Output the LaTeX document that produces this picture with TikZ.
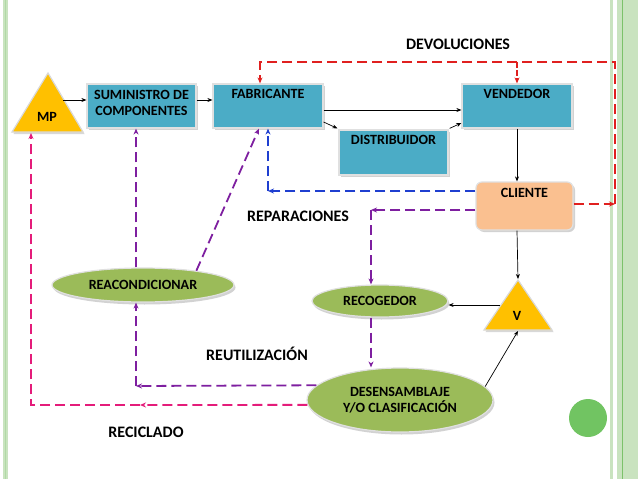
\documentclass[tikz,border=0pt]{standalone}
\usepackage{fontspec}
\setmainfont{Carlito}
\usetikzlibrary{shadows,arrows.meta}
\definecolor{boxblue}{HTML}{4BACC6}
\definecolor{peach}{HTML}{FAC090}
\definecolor{olive}{HTML}{9BBB59}
\definecolor{gold}{HTML}{FFC000}
\definecolor{dred}{HTML}{E0201F}
\definecolor{dblue}{HTML}{1F3FD0}
\definecolor{dpurple}{HTML}{7E1FA0}
\definecolor{dmag}{HTML}{E41C7A}
\definecolor{lgreen}{HTML}{C9E3BF}
\definecolor{mgreen}{HTML}{7CC26A}
\definecolor{ballgreen}{HTML}{71C462}
\tikzset{
  txt/.style={font=\bfseries\fontsize{14.1}{16}\selectfont, text=black, inner sep=0pt, align=center},
  bigtxt/.style={txt, font=\bfseries\fontsize{16}{18}\selectfont},
  boxshape/.style={rectangle, draw=white!88!black, line width=1.2pt, fill=boxblue, inner sep=0pt,
     drop shadow={shadow xshift=2pt, shadow yshift=-2pt, fill=black!35}},
  ellshape/.style={ellipse, draw=white!88!black, line width=1.2pt, fill=olive, inner sep=0pt,
     drop shadow={shadow xshift=1.5pt, shadow yshift=-2.5pt, fill=black!35}, txt},
  trishape/.style={draw=white!85!black, line width=1.2pt, fill=gold,
     drop shadow={shadow xshift=1.5pt, shadow yshift=-2pt, fill=black!30}},
  blk/.style={draw=black, line width=0.7pt, -{Stealth[length=5pt,width=4pt]}},
  dsh/.style={line width=1.8pt, dash pattern=on 10pt off 5pt, -{Stealth[length=6pt,width=5pt]}},
  inlab/.style={txt, anchor=north, yshift=-6pt},
}
\usetikzlibrary{shapes.geometric}
\begin{document}
\begin{tikzpicture}[x=1pt,y=-1pt]
\useasboundingbox (0,0) rectangle (638,479);
\fill[white] (0,0) rectangle (638,479);
% side strips
\fill[lgreen] (3,0) rectangle (8,479);
\fill[mgreen!60] (5.3,0) rectangle (6.3,479);
\fill[lgreen] (609.5,0) rectangle (613,479);
\fill[lgreen] (616.5,0) rectangle (638,479);
\fill[mgreen] (621.8,0) rectangle (623.3,479);

% triangles
\path[trishape] (48,73) -- (83,132) -- (12,132) -- cycle;
\node[txt] (mp) at (47,117) {MP};
\coordinate (mpR) at (63,100);
\coordinate (mpB) at (31,133);
\path[trishape] (518,280) -- (552,330) -- (484,330) -- cycle;
\node[txt] (v) at (517,316) {V};
\coordinate (vT) at (518,279);
\coordinate (vL) at (500,305);
\coordinate (vB) at (518,331);

% boxes
\node[boxshape, minimum width=109pt, minimum height=44pt,
  label={[inlab, yshift=-1pt, font=\bfseries\fontsize{14.1}{15.5}\selectfont]north:SUMINISTRO DE\\COMPONENTES}] (sum) at (141.5,106) {};
\node[boxshape, minimum width=110pt, minimum height=44pt, label={[inlab]north:FABRICANTE}] (fab) at (268,106) {};
\node[boxshape, minimum width=110pt, minimum height=44pt, label={[inlab]north:VENDEDOR}] (ven) at (517,106) {};
\node[boxshape, minimum width=109pt, minimum height=45pt, label={[inlab]north:DISTRIBUIDOR}] (dis) at (393.5,152.5) {};
\node[boxshape, fill=peach, rounded corners=6pt, minimum width=97pt, minimum height=48pt, label={[inlab, yshift=-1pt]north:CLIENTE}] (cli) at (524.5,206) {};

% ellipses
\node[ellshape, minimum width=182pt, minimum height=34pt] (rea) at (143,285) {REACONDICIONAR};
\node[ellshape, minimum width=136pt, minimum height=32pt] (reco) at (380,301) {RECOGEDOR};
\node[ellshape, minimum width=186pt, minimum height=64pt] (des) at (400,400) {DESENSAMBLAJE\\Y/O CLASIFICACIÓN};

% ball
\node[circle, fill=ballgreen, minimum size=38pt, inner sep=0pt] (ball) at (588,418) {};

% free labels
\node[bigtxt] (ldev) at (458,44) {DEVOLUCIONES};
\node[bigtxt] (lrep) at (298,216) {REPARACIONES};
\node[bigtxt] (lreu) at (257,354) {REUTILIZACIÓN};
\node[bigtxt] (lrec) at (146,432) {RECICLADO};

% black arrows
\draw[blk] (mpR) -- ([yshift=6pt]sum.west);
\draw[blk] ([yshift=6pt]sum.east) -- ([yshift=6pt]fab.west);
\draw[blk] ([yshift=-4pt]fab.east) -- ([yshift=-4pt]ven.west);
\draw[blk] ([yshift=-16pt]fab.east) -- ([xshift=-1pt,yshift=1pt]dis.north west);
\draw[blk] ([xshift=1pt,yshift=1pt]dis.north east) -- ([yshift=-17pt]ven.west);
\draw[blk] (ven.south) -- (ven.south |- cli.north);
\draw[blk] (ven.south |- cli.south) -- (vT);
\draw[blk] (vL) -- ([yshift=-4pt]reco.east);
\draw[blk] (des.9.5) -- (vB);

% red: devoluciones
\coordinate (rr) at (615,204);
\coordinate (rt) at (615,62);
\coordinate (lt) at (260,62);
\draw[dsh, dred] (cli.east |- rr) -- (rr);
\draw[dsh, dred] (rr) -- (rt) -- (lt) -- ([xshift=-8pt]fab.north);
\draw[dsh, dred, dash pattern=on 6pt off 2pt] (ven.north |- rt) -- (ven.north);

% blue: reparaciones
\coordinate (bc) at (268,191);
\draw[dsh, dblue] ([yshift=15pt]cli.west) -- (bc);
\draw[dsh, dblue] (bc) -- (fab.south);

% purple
\coordinate (pc) at (371,210);
\draw[dsh, dpurple] ([yshift=-4pt]cli.west) -- (pc);
\draw[dsh, dpurple] (pc) -- (pc |- reco.north);
\draw[dsh, dpurple] (pc |- reco.south) -- (pc |- des.north);
\coordinate (rc) at (136,386);
\draw[dsh, dpurple] (des.170.5) -- (rc);
\draw[dsh, dpurple] (rc) -- (rc |- rea.south);
\draw[dsh, dpurple] (rc |- rea.north) -- (rc |- sum.south);
\draw[dsh, dpurple] (rea.15) -- ([xshift=-9pt]fab.south);

% magenta: reciclado
\coordinate (mm) at (140,405);
\coordinate (mc) at (31,405);
\draw[dsh, dmag] (des.183) -- (mm);
\draw[dsh, dmag] (mm) -- (mc) -- (mpB);
\end{tikzpicture}
\end{document}
